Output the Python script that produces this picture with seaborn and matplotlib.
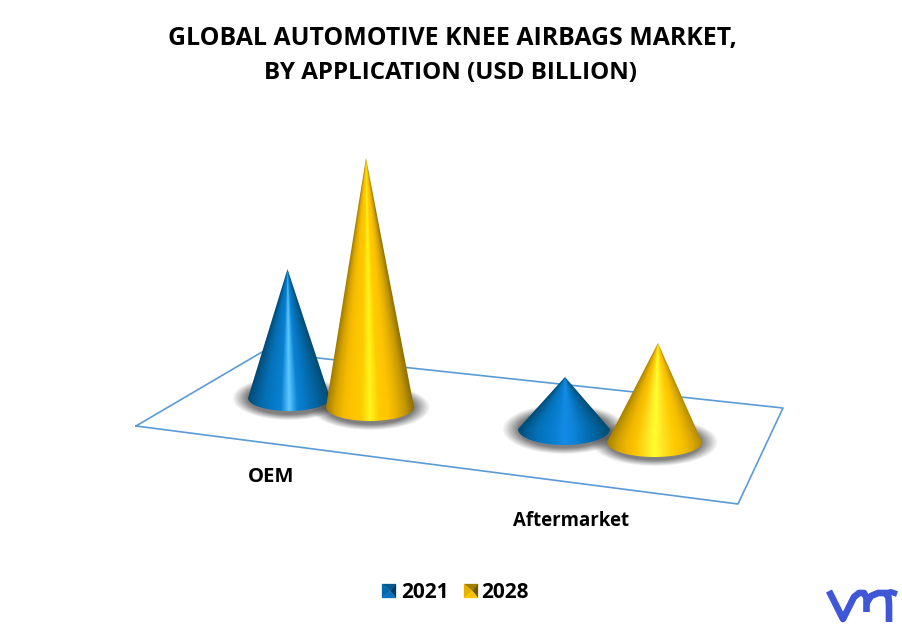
import numpy as np
import pandas as pd
import matplotlib
matplotlib.use("Agg")
import matplotlib.pyplot as plt
from matplotlib.patches import Polygon
import seaborn as sns

# data, USD billion, estimated from the cone heights
applications = ["OEM", "OEM", "Aftermarket", "Aftermarket"]
years = ["2021", "2028", "2021", "2028"]
market_size = [1.29, 2.49, 0.52, 0.99]

title_lines = ["GLOBAL AUTOMOTIVE KNEE AIRBAGS MARKET,", "BY APPLICATION (USD BILLION)"]

# layout of the fake 3d scene, in pixels
px_per_billion = 100
base_x = [289, 370, 564, 654.5]
base_y = [398, 407, 429, 442]
radius_x = [41, 44, 46, 47.5]
radius_y = [13, 14, 16, 15]
apex_x = [287.5, 366, 565, 658]

blue = ["#014a75", "#035e98", "#0570b5", "#0679c6", "#0a80d2", "#5ccaff", "#0c82d4", "#0676c0", "#0468a8", "#035a8c", "#014a70"]
blue_dull = ["#014a75", "#035e98", "#0570b5", "#0679c6", "#0a80d2", "#138ae4", "#0f85da", "#0676c0", "#0468a8", "#035a8c", "#014a70"]
gold = ["#a07d00", "#d8a400", "#f5bb00", "#ffc400", "#ffcb00", "#fff41c", "#ffcc00", "#ffc400", "#e8b200", "#c49800", "#8c6e00"]
gold_wide = ["#a88300", "#d0a000", "#eeb600", "#fcc400", "#ffe020", "#ffff30", "#ffe020", "#ffcc00", "#f5c000", "#dca800", "#b08a00"]
cone_cmaps = [sns.blend_palette(c, 256, as_cmap=True) for c in (blue, gold, blue_dull, gold_wide)]

sns.set_theme(style="white")
plt.rcParams["font.family"] = ["Open Sans", "DejaVu Sans"]

fig = plt.figure(figsize=(9.02, 6.25), dpi=100)
ax = fig.add_axes([0, 0, 1, 1])
ax.set_xlim(0, 902)
ax.set_ylim(625, 0)
ax.axis("off")

# floor
floor = pd.DataFrame({"x": [136, 262, 783, 738, 136], "y": [426, 352, 408, 504, 426]})
sns.lineplot(data=floor, x="x", y="y", sort=False, estimator=None, color="#5b9bd5", linewidth=1.2, ax=ax, zorder=1)


def draw_shadow(cx, cy, rx, ry):
    xs = np.arange(cx - rx - 30, cx + rx + 30, 0.5)
    ys = np.arange(cy - ry - 24, cy + ry + 24, 0.5)
    xx, yy = np.meshgrid(xs, ys)
    d = np.sqrt(((xx - cx) / (rx + 16)) ** 2 + ((yy - cy - 1) / (ry + 9)) ** 2)
    alpha = np.clip((1 - d) / 0.26, 0, 1) * 0.66
    rgba = np.zeros(xx.shape + (4,))
    rgba[..., :3] = 0.25
    rgba[..., 3] = alpha
    ax.imshow(rgba, extent=[xs[0], xs[-1], ys[-1], ys[0]], zorder=2, aspect="auto")


def draw_cone(i):
    cx, cy, rx, ry = base_x[i], base_y[i], radius_x[i], radius_y[i]
    ax_tip = apex_x[i]
    tip_y = cy - market_size[i] * px_per_billion
    xs = np.arange(cx - rx - 2, cx + rx + 2, 0.25)
    ys = np.arange(tip_y - 1, cy + ry + 2, 0.25)
    xx, yy = np.meshgrid(xs, ys)
    # shade by the angle round the cone, so the bands run into the tip
    t = np.clip((yy - tip_y) / (cy - tip_y), 0.004, 1)
    u = (xx - (ax_tip + (cx - ax_tip) * t)) / (rx * t)
    u = (np.clip(u, -1, 1) + 1) / 2
    im = ax.imshow(u, extent=[xs[0], xs[-1], ys[-1], ys[0]], cmap=cone_cmaps[i], vmin=0, vmax=1,
                   zorder=3 + i * 0.1, aspect="auto")
    theta = np.linspace(0, np.pi, 80)
    arc = np.column_stack([cx + rx * np.cos(theta), cy + ry * np.sin(theta)])
    outline = np.vstack([[ax_tip, tip_y], arc[0], arc[1:], [ax_tip, tip_y]])
    clip = Polygon(outline, closed=True, transform=ax.transData, facecolor="none", edgecolor="none")
    ax.add_patch(clip)
    im.set_clip_path(clip)


for i in range(len(market_size)):
    draw_shadow(base_x[i], base_y[i], radius_x[i], radius_y[i])
for i in range(len(market_size)):
    draw_cone(i)

ax.set_xlim(0, 902)
ax.set_ylim(625, 0)

# title and labels
ax.text(452, 38, title_lines[0], ha="center", va="center", fontsize=17.9, fontweight="bold", color="black")
ax.text(451, 73, title_lines[1], ha="center", va="center", fontsize=17.4, fontweight="bold", color="black")
ax.text(271.5, 477, applications[0], ha="center", va="center", fontsize=14.6, fontweight="bold", color="black")
ax.text(571, 521, applications[2], ha="center", va="center", fontsize=13.4, fontweight="bold", color="black")


# legend with little pyramid swatches
def swatch(x0, c_top, c_left, c_right, c_bottom):
    y0, s = 584, 14
    m = (x0 + s * 0.6, y0 + s / 2)
    a, b, c, d = (x0, y0), (x0 + s, y0), (x0 + s, y0 + s), (x0, y0 + s)
    for pts, col in [((a, b, m), c_top), ((a, d, m), c_left), ((b, c, m), c_right), ((c, d, m), c_bottom)]:
        ax.add_patch(Polygon(pts, closed=True, facecolor=col, edgecolor=col, linewidth=0.2, zorder=5))


swatch(382, "#04598f", "#0468ad", "#023a60", "#0672bd")
swatch(464, "#a07f00", "#e6b000", "#6f5900", "#ffc400")
ax.text(401.5, 592, years[0], ha="left", va="center", fontsize=15, fontweight="bold", color="black")
ax.text(481.5, 592, years[1], ha="left", va="center", fontsize=15, fontweight="bold", color="black")

# logo
logo_color = "#3f57d6"
ax.plot([829, 843, 854, 859, 864, 866.5, 866.5], [591, 619, 597, 593, 593, 598, 612], color=logo_color, linewidth=4.8,
        solid_capstyle="butt", solid_joinstyle="round", zorder=6)
ax.plot([866.5, 871, 878, 885, 888.5, 889, 889], [603, 596, 593, 593, 597, 605, 622], color=logo_color, linewidth=4.8,
        solid_capstyle="butt", solid_joinstyle="round", zorder=6)
ax.plot([885, 891, 897], [593, 592, 594], color=logo_color, linewidth=4.2, solid_capstyle="butt", zorder=6)

fig.savefig("out.png", dpi=100)
